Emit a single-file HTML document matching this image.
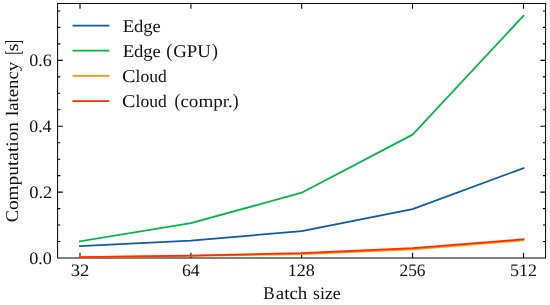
<!DOCTYPE html>
<html lang="en"><head><meta charset="utf-8"><title>Computation latency vs batch size</title>
<style>
html,body{margin:0;padding:0;background:#fff;}
body{width:550px;height:305px;overflow:hidden;}
svg{display:block;}
text{font-family:"Liberation Serif","DejaVu Serif",serif;text-rendering:geometricPrecision;}
</style></head><body>
<svg width="550" height="305" viewBox="0 0 550 305">
<rect width="550" height="305" fill="#fff"/>
<path d="M80.0 258.0v-5.2M80.0 3.45v5.2 M190.9 258.0v-5.2M190.9 3.45v5.2 M301.7 258.0v-5.2M301.7 3.45v5.2 M412.6 258.0v-5.2M412.6 3.45v5.2 M523.5 258.0v-5.2M523.5 3.45v5.2 M57.6 241.53h2.7M545.6 241.53h-2.7 M57.6 225.06h2.7M545.6 225.06h-2.7 M57.6 208.59h2.7M545.6 208.59h-2.7 M57.6 192.12h5.2M545.6 192.12h-5.2 M57.6 175.65h2.7M545.6 175.65h-2.7 M57.6 159.18h2.7M545.6 159.18h-2.7 M57.6 142.71h2.7M545.6 142.71h-2.7 M57.6 126.24h5.2M545.6 126.24h-5.2 M57.6 109.77h2.7M545.6 109.77h-2.7 M57.6 93.30h2.7M545.6 93.30h-2.7 M57.6 76.83h2.7M545.6 76.83h-2.7 M57.6 60.36h5.2M545.6 60.36h-5.2 M57.6 43.89h2.7M545.6 43.89h-2.7 M57.6 27.42h2.7M545.6 27.42h-2.7 M57.6 10.95h2.7M545.6 10.95h-2.7" stroke="#000" stroke-width="1.1" fill="none"/>
<rect x="57.6" y="3.45" width="488.0" height="254.55" fill="none" stroke="#000" stroke-width="1.0"/>
<polyline points="80.0,246.2 190.9,240.6 301.7,231.2 412.6,209.1 523.5,168.2" fill="none" stroke="#0C5DA5" stroke-width="1.75" stroke-linecap="square" stroke-linejoin="round"/>
<polyline points="80.0,241.3 190.9,223.2 301.7,192.7 412.6,134.6 523.5,15.8" fill="none" stroke="#00B945" stroke-width="1.75" stroke-linecap="square" stroke-linejoin="round"/>
<polyline points="80.0,257.1 190.9,255.9 301.7,254.1 412.6,249.3 523.5,240.3" fill="none" stroke="#FF9500" stroke-width="1.75" stroke-linecap="square" stroke-linejoin="round"/>
<polyline points="80.0,257.0 190.9,255.6 301.7,253.2 412.6,248.1 523.5,239.3" fill="none" stroke="#FF2C00" stroke-width="1.75" stroke-linecap="square" stroke-linejoin="round"/>
<line x1="73.4" x2="108.5" y1="25.5" y2="25.5" stroke="#0C5DA5" stroke-width="1.75" stroke-linecap="square"/>
<line x1="73.4" x2="108.5" y1="50.7" y2="50.7" stroke="#00B945" stroke-width="1.75" stroke-linecap="square"/>
<line x1="73.4" x2="108.5" y1="75.9" y2="75.9" stroke="#FF9500" stroke-width="1.75" stroke-linecap="square"/>
<line x1="73.4" x2="108.5" y1="101.1" y2="101.1" stroke="#FF2C00" stroke-width="1.75" stroke-linecap="square"/>
<text fill="#111"><tspan x="122.68" y="32.00" font-size="18" textLength="11.54" lengthAdjust="spacingAndGlyphs">E</tspan><tspan x="133.94" y="32.00" font-size="17.5" textLength="26.86" lengthAdjust="spacingAndGlyphs">dge</tspan></text>
<text fill="#111"><tspan x="122.68" y="57.00" font-size="18" textLength="11.54" lengthAdjust="spacingAndGlyphs">E</tspan><tspan x="133.94" y="57.00" font-size="17.5" textLength="26.86" lengthAdjust="spacingAndGlyphs">dge</tspan> <tspan x="166.36" y="57.00" font-size="19" textLength="6.10" lengthAdjust="spacingAndGlyphs">(</tspan><tspan x="173.22" y="57.00" font-size="18" textLength="37.59" lengthAdjust="spacingAndGlyphs">GPU</tspan><tspan x="212.12" y="57.00" font-size="19" textLength="5.84" lengthAdjust="spacingAndGlyphs">)</tspan></text>
<text fill="#111"><tspan x="122.06" y="82.00" font-size="18" textLength="13.48" lengthAdjust="spacingAndGlyphs">C</tspan><tspan x="135.62" y="82.00" font-size="17.5" textLength="31.23" lengthAdjust="spacingAndGlyphs">loud</tspan></text>
<text fill="#111"><tspan x="122.06" y="107.00" font-size="18" textLength="13.48" lengthAdjust="spacingAndGlyphs">C</tspan><tspan x="135.62" y="107.00" font-size="17.5" textLength="31.23" lengthAdjust="spacingAndGlyphs">loud</tspan> <tspan x="174.51" y="107.00" font-size="19" textLength="5.71" lengthAdjust="spacingAndGlyphs">(</tspan><tspan x="180.42" y="107.00" font-size="17.5" textLength="52.41" lengthAdjust="spacingAndGlyphs">compr.</tspan><tspan x="232.82" y="107.00" font-size="19" textLength="5.84" lengthAdjust="spacingAndGlyphs">)</tspan></text>
<text fill="#111"><tspan x="263.22" y="299.00" font-size="18" textLength="11.42" lengthAdjust="spacingAndGlyphs">B</tspan><tspan x="275.72" y="299.00" font-size="17.5" textLength="31.58" lengthAdjust="spacingAndGlyphs">atch</tspan> <tspan x="313.14" y="299.00" font-size="17.5" textLength="27.56" lengthAdjust="spacingAndGlyphs">size</tspan></text>
<text fill="#111" transform="rotate(-90)"><tspan x="-222.27" y="18.00" font-size="18" textLength="12.31" lengthAdjust="spacingAndGlyphs">C</tspan><tspan x="-210.09" y="18.00" font-size="17.5" textLength="88.03" lengthAdjust="spacingAndGlyphs">omputation</tspan> <tspan x="-116.10" y="18.00" font-size="17.5" textLength="54.34" lengthAdjust="spacingAndGlyphs">latency</tspan> <tspan x="-54.39" y="20.00" font-size="21.4" textLength="3.90" lengthAdjust="spacingAndGlyphs">[</tspan><tspan x="-51.35" y="18.00" font-size="17.5" textLength="7.73" lengthAdjust="spacingAndGlyphs">s</tspan><tspan x="-44.33" y="20.00" font-size="21.4" textLength="4.05" lengthAdjust="spacingAndGlyphs">]</tspan></text>
<text fill="#111"><tspan x="29.25" y="264.00" font-size="17.5" textLength="22.70" lengthAdjust="spacingAndGlyphs">0.0</tspan></text>
<text fill="#111"><tspan x="29.24" y="198.00" font-size="17.5" textLength="23.12" lengthAdjust="spacingAndGlyphs">0.2</tspan></text>
<text fill="#111"><tspan x="29.26" y="132.00" font-size="17.5" textLength="22.29" lengthAdjust="spacingAndGlyphs">0.4</tspan></text>
<text fill="#111"><tspan x="29.26" y="66.00" font-size="17.5" textLength="22.56" lengthAdjust="spacingAndGlyphs">0.6</tspan></text>
<text fill="#111"><tspan x="70.82" y="276.00" font-size="17.5" textLength="18.59" lengthAdjust="spacingAndGlyphs">32</tspan></text>
<text fill="#111"><tspan x="181.90" y="276.00" font-size="17.5" textLength="17.61" lengthAdjust="spacingAndGlyphs">64</tspan></text>
<text fill="#111"><tspan x="287.75" y="276.00" font-size="17.5" textLength="27.09" lengthAdjust="spacingAndGlyphs">128</tspan></text>
<text fill="#111"><tspan x="399.45" y="276.00" font-size="17.5" textLength="26.14" lengthAdjust="spacingAndGlyphs">256</tspan></text>
<text fill="#111"><tspan x="510.07" y="276.00" font-size="17.5" textLength="26.95" lengthAdjust="spacingAndGlyphs">512</tspan></text>
</svg></body></html>
